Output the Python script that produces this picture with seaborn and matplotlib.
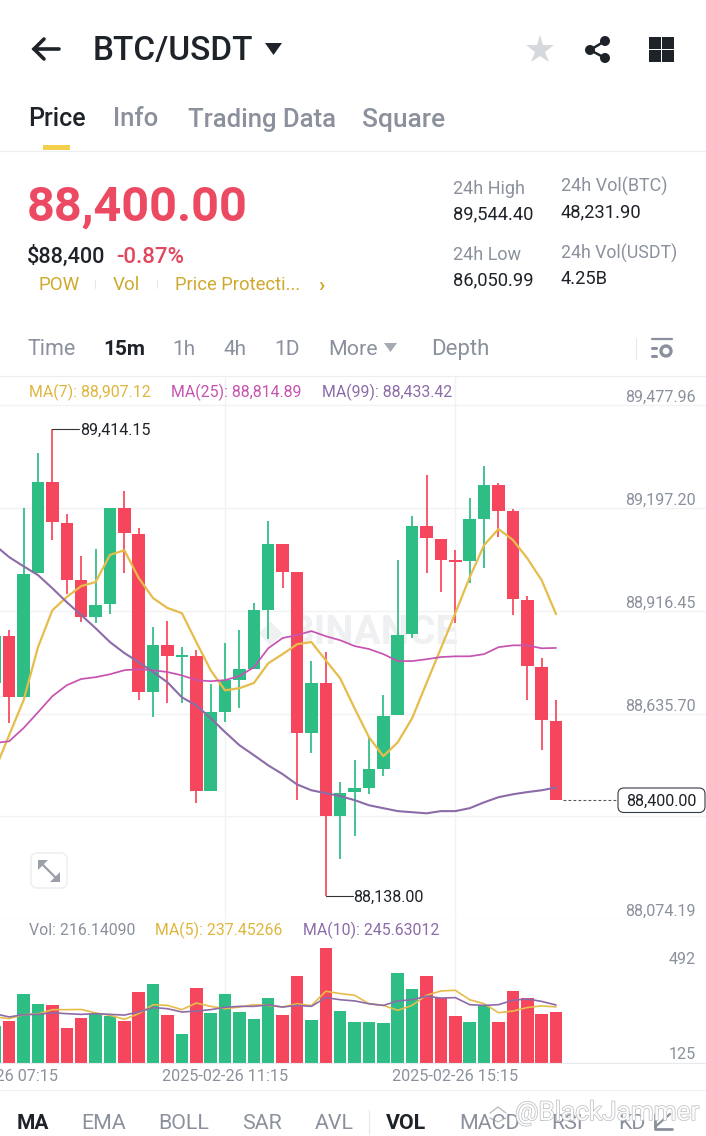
import numpy as np
import pandas as pd
import seaborn as sns
import matplotlib
matplotlib.use('Agg')
import matplotlib.pyplot as plt
import matplotlib.patheffects as pe
from matplotlib.patches import FancyBboxPatch, Rectangle, Circle, Polygon

# velas de 15m
opens = [88719, 88847, 88680, 89019, 89268, 89156, 89000, 88899, 88935, 89197,
         89126, 88694, 88823, 88791, 88792, 88423, 88639, 88727, 88757, 88918,
         89099, 89022, 88582, 88719, 88355, 88421, 88432, 88484, 88631, 88853,
         89148, 89112, 89055, 89052, 89167, 89260, 89189, 88946, 88762, 88615]
closes = [88847, 88680, 89017, 89268, 89159, 89000, 88899, 88932, 89197, 89129,
          88694, 88823, 88792, 88795, 88423, 88639, 88727, 88757, 88918, 89099,
          89022, 88582, 88719, 88355, 88418, 88432, 88484, 88628, 88850, 89148,
          89115, 89055, 89051, 89167, 89260, 89189, 88948, 88765, 88617, 88400]
highs = [88891, 88864, 89197, 89348, 89414.15, 89181, 89066, 89085, 89197, 89244,
         89143, 88872, 88888, 88817, 88809, 88716, 88828, 88864, 88937, 89162,
         89099, 89022, 88779, 88803, 88448, 88508, 88571, 88686, 89055, 89175,
         89287, 89112, 89082, 89225, 89312, 89266, 89194, 88956, 88787, 88672]
lows = [88700, 88609, 88680, 89019, 89110, 88962, 88885, 88883, 88907, 89019,
        88672, 88626, 88664, 88664, 88391, 88423, 88612, 88650, 88757, 88839,
        88978, 88400, 88527, 88138, 88237, 88300, 88415, 88464, 88631, 88842,
        89019, 88967, 88883, 88992, 89033, 89118, 88905, 88672, 88536, 88400]

ma7 = [88481, 88577, 88672, 88817, 88918, 88954, 88984, 88995, 89069, 89082,
       89006, 88951, 88924, 88910, 88831, 88754, 88699, 88705, 88719, 88773,
       88798, 88825, 88831, 88781, 88732, 88650, 88571, 88519, 88557, 88623,
       88719, 88814, 88910, 89008, 89096, 89140, 89110, 89060, 89000, 88907.12]
ma25 = [88555, 88560, 88596, 88639, 88683, 88713, 88730, 88735, 88743, 88754,
        88757, 88754, 88749, 88740, 88727, 88724, 88727, 88738, 88762, 88814,
        88842, 88850, 88861, 88847, 88836, 88820, 88812, 88798, 88779, 88779,
        88784, 88790, 88792, 88792, 88798, 88817, 88822, 88822, 88814, 88814.89]
ma99 = [89096, 89063, 89038, 89014, 88978, 88940, 88905, 88869, 88831, 88801,
        88776, 88749, 88721, 88680, 88658, 88623, 88585, 88549, 88522, 88494,
        88470, 88442, 88426, 88418, 88410, 88399, 88385, 88377, 88369, 88366,
        88363, 88369, 88369, 88377, 88393, 88407, 88415, 88421, 88426, 88433.42]

volumes = [155, 177, 294, 251, 247, 147, 189, 209, 199, 177,
           301, 333, 205, 124, 318, 213, 294, 218, 186, 277,
           203, 367, 181, 486, 222, 174, 174, 168, 381, 312,
           369, 275, 198, 174, 240, 174, 304, 275, 209, 216.14]
vol_ma5 = [195, 188, 205, 208, 226, 226, 227, 212, 202, 185,
           209, 247, 244, 226, 254, 240, 230, 237, 247, 244,
           237, 251, 243, 304, 294, 287, 251, 244, 223, 244,
           287, 305, 308, 268, 251, 213, 220, 235, 242, 237.45]
vol_ma10 = [209, 195, 205, 206, 213, 209, 206, 209, 206, 203,
            216, 235, 230, 216, 220, 226, 236, 240, 240, 246,
            237, 244, 240, 277, 268, 263, 251, 244, 263, 268,
            283, 275, 277, 247, 244, 247, 266, 271, 261, 245.63]

price_ticks = [89477.96, 89197.20, 88916.45, 88635.70, 88354.95, 88074.19]
price_labels = ['89,477.96', '89,197.20', '88,916.45', '88,635.70', '', '88,074.19']
time_ticks = [0, 16, 32]
time_labels = ['2025-02-26 07:15', '2025-02-26 11:15', '2025-02-26 15:15']

GREEN = '#2EBD85'
RED = '#F6465D'
YELLOW = '#E6BC4A'
MAGENTA = '#C653B0'
PURPLE = '#8C6BA8'
DARK = '#1E2329'
GREY = '#8A919C'
GRID = '#F1F2F4'
GOLD = '#CFA92E'

sns.set_style('white')
plt.rcParams['font.family'] = ['Roboto', 'DejaVu Sans']

df = pd.DataFrame({'idx': np.arange(len(opens)), 'open': opens, 'close': closes,
                   'high': highs, 'low': lows, 'vol': volumes})
df['dir'] = np.where(df['close'] >= df['open'], 'up', 'down')
colors = df['dir'].map({'up': GREEN, 'down': RED})

W, H = 706, 1136
fig = plt.figure(figsize=(W / 100, H / 100), dpi=100, facecolor='white')
XLIM = (-0.334, 49.42)

# painel de preços
ax = fig.add_axes([-10 / W, (H - 919) / H, (W + 10) / W, 543 / H], facecolor='none')
ax.set_axisbelow(True)
ax.text(20.44, 88855, 'BINANCE', color='#EEF0F2', fontsize=29, fontweight='bold',
        ha='left', va='center', zorder=0.5)
ax.plot([19.1], [88855], marker='D', ms=11, color='#EEF0F2', zorder=0.5)
ax.vlines(df['idx'], df['low'], df['high'], colors=colors, lw=1.25, zorder=2)
ax.bar(df['idx'], (df['close'] - df['open']).abs(), bottom=df[['open', 'close']].min(axis=1),
       width=0.87, color=colors, linewidth=0, zorder=2.2)
sns.lineplot(x=df['idx'], y=ma7, color=YELLOW, lw=1.6, ax=ax, zorder=3)
sns.lineplot(x=df['idx'], y=ma25, color=MAGENTA, lw=1.25, ax=ax, zorder=3)
sns.lineplot(x=df['idx'], y=ma99, color=PURPLE, lw=1.5, ax=ax, zorder=3)
ax.set_xlim(XLIM)
ax.set_ylim(88074.19, 89558.05)
ax.set_xlabel('')
ax.set_ylabel('')
ax.set_xticks(time_ticks)
ax.set_xticklabels([])
ax.yaxis.tick_right()
ax.set_yticks(price_ticks)
ax.set_yticklabels(price_labels)
ax.tick_params(axis='y', length=0, pad=-7.2, labelsize=11.6, labelcolor=GREY)
ax.tick_params(axis='x', length=0)
for lab in ax.get_yticklabels():
    lab.set_ha('right')
    lab.set_va('bottom')
ax.grid(True, color=GRID, lw=1)
sns.despine(ax=ax, left=True, right=True, bottom=True, top=True)

# máxima e mínima
for xi, val, txt in [(4, max(highs), '89,414.15'), (23, min(lows), '88,138.00')]:
    ax.plot([xi, xi + 1.88], [val, val], color='#333333', lw=0.8, zorder=4)
    ax.text(xi + 1.93, val - 4, txt, fontsize=11.6, color=DARK, va='center', ha='left', zorder=4)
# linha do último preço
ax.plot([39.45, 43.2], [closes[-1], closes[-1]], color='#555555', lw=0.8, ls=(0, (2.5, 2)), zorder=3)

# painel de volume
axv = fig.add_axes([-10 / W, (H - 1063) / H, (W + 10) / W, 144 / H], facecolor='none')
axv.set_axisbelow(True)
sns.barplot(data=df, x='idx', y='vol', hue='dir', palette={'up': GREEN, 'down': RED},
            native_scale=True, dodge=False, width=0.87, saturation=1, linewidth=0,
            legend=False, ax=axv, zorder=2)
sns.lineplot(x=df['idx'], y=vol_ma5, color=YELLOW, lw=1.2, ax=axv, zorder=3)
sns.lineplot(x=df['idx'], y=vol_ma10, color=PURPLE, lw=1.2, ax=axv, zorder=3)
axv.set_xlim(XLIM)
axv.set_ylim(0, 610)
axv.set_xlabel('')
axv.set_ylabel('')
axv.set_yticks([])
axv.set_xticks(time_ticks)
axv.set_xticklabels(time_labels)
axv.tick_params(axis='x', length=0, pad=4.5, labelsize=11.7, labelcolor=GREY)
axv.grid(True, axis='x', color=GRID, lw=1)
sns.despine(ax=axv, left=True, right=True, top=True)
axv.spines['bottom'].set_color('#E8EAED')
axv.spines['bottom'].set_linewidth(0.8)

# interface do app em pixels, por cima dos painéis
ui = fig.add_axes([0, 0, 1, 1], facecolor='none', zorder=5)
ui.set_xlim(0, W)
ui.set_ylim(H, 0)
ui.axis('off')


def label(x, y, s, size, color=GREY, weight='normal', ha='left', **kw):
    return ui.text(x, y + 1.5, s, fontsize=size, color=color, fontweight=weight, ha=ha,
                   va='center', **kw)


# cabeçalho
ui.plot([34, 59], [49, 49], color=DARK, lw=2.6, solid_capstyle='round')
ui.plot([44, 34, 44], [39, 49, 59], color=DARK, lw=2.6, solid_capstyle='round', solid_joinstyle='miter')
label(93, 50, 'BTC/USDT', 24, DARK, 'medium')
ui.add_patch(Polygon([[265, 43], [282, 43], [273.5, 55]], color=DARK, lw=0))
ui.plot([540], [50], marker='*', ms=21, color='#D5D8DC', mew=0)
for cx, cy in [(590, 50), (605, 41), (605, 58)]:
    ui.add_patch(Circle((cx, cy), 5, color=DARK, lw=0))
ui.plot([605, 590, 605], [41, 50, 58], color=DARK, lw=1.8)
for sx, sy in [(649, 37), (662, 37), (649, 50), (662, 50)]:
    ui.add_patch(Rectangle((sx, sy), 11.5, 11.5, color=DARK, lw=0))

# abas
label(28, 118, 'Price', 18, DARK, 'medium')
label(113, 118, 'Info', 18.5, GREY, 'medium')
label(188, 118, 'Trading Data', 18.5, GREY, 'medium')
label(362, 118, 'Square', 19, GREY, 'medium')
ui.add_patch(Rectangle((43, 145), 27, 5, color='#F3CF4B', lw=0))
ui.plot([0, W], [151, 151], color='#ECEEF0', lw=0.9)

# preço atual
label(27, 206, '88,400.00', 35, '#EC4A62', 'bold')
label(27, 255, '$88,400', 15.6, DARK, 'medium')
label(116, 256, '-0.87%', 16, '#E0485E', 'medium')
label(38, 284, 'POW', 13.5, GOLD)
label(113, 284, 'Vol', 13.5, GOLD)
label(175, 284, 'Price Protecti...', 13.2, GOLD)
label(318, 284, '›', 15, GOLD, 'bold')
for sep in [95, 157]:
    ui.plot([sep, sep], [280, 288], color='#E6E8EA', lw=0.8)

label(453, 187, '24h High', 13, GREY)
label(453, 213, '89,544.40', 13.2, DARK)
label(561, 185, '24h Vol(BTC)', 13, GREY)
label(561, 211, '48,231.90', 13.2, DARK)
label(453, 254, '24h Low', 13, GREY)
label(453, 279, '86,050.99', 13.2, DARK)
label(561, 252, '24h Vol(USDT)', 12.8, GREY)
label(561, 278, '4.25B', 13.2, DARK)

# intervalos
label(27, 348, 'Time', 15.5, GREY)
label(103, 348, '15m', 15, DARK, 'bold')
label(172, 348, '1h', 15, GREY)
label(223, 348, '4h', 15, GREY)
label(274, 348, '1D', 15, GREY)
label(328, 348, 'More', 15.4, GREY)
ui.add_patch(Polygon([[384, 343], [397, 343], [390.5, 352]], color='#A4A9B2', lw=0))
label(431, 348, 'Depth', 16, GREY)
ui.plot([636, 636], [338, 359], color='#E6E8EA', lw=0.8)
ui.plot([652, 672], [339, 339], color=GREY, lw=1.6)
ui.plot([652, 656], [348, 348], color=GREY, lw=2.2)
ui.plot([652, 656], [356, 356], color=GREY, lw=2.2)
ui.add_patch(Circle((666, 351), 5, fc='none', ec=GREY, lw=2.4))
ui.plot([0, W], [376, 376], color='#ECEEF0', lw=0.9)

# legendas das médias
label(29, 391, 'MA(7): 88,907.12', 11.4, '#E0B53E')
label(171, 391, 'MA(25): 88,814.89', 11.4, MAGENTA)
label(322, 391, 'MA(99): 88,433.42', 11.4, PURPLE)
label(29, 929, 'Vol: 216.14090', 11.4, GREY)
label(155, 929, 'MA(5): 237.45266', 11.4, '#E0B53E')
label(303, 929, 'MA(10): 245.63012', 11.4, PURPLE)
label(696, 958, '492', 11.6, GREY, ha='right')
label(696, 1053, '125', 11.6, GREY, ha='right')

# caixa do último preço
ui.add_patch(FancyBboxPatch((618, 788), 87, 24.5, boxstyle='round,pad=0,rounding_size=6',
                            mutation_aspect=1, fc='white', ec='#333a42', lw=0.8))
ui.text(661.5, 801.5, f'{closes[-1]:,.2f}', fontsize=11.6, color=DARK, ha='center', va='center')

# botão de expandir
ui.add_patch(FancyBboxPatch((31, 853), 36, 35, boxstyle='round,pad=0,rounding_size=6',
                            fc='white', ec='#EEEFF1', lw=1.2))
ui.plot([40, 58], [862, 880], color='#9A9FA8', lw=1.6)
ui.add_patch(Polygon([[38, 860], [48, 860], [38, 870]], color='#9A9FA8', lw=0))
ui.add_patch(Polygon([[60, 882], [50, 882], [60, 872]], color='#9A9FA8', lw=0))

# rodapé
ui.plot([0, W], [1090, 1090], color='#F0F1F3', lw=0.9)
label(17, 1122, 'MA', 15, DARK, 'bold')
label(81, 1122, 'EMA', 15.4, GREY)
label(158, 1122, 'BOLL', 15.4, GREY)
label(242, 1122, 'SAR', 15.4, GREY)
label(315, 1122, 'AVL', 15.4, GREY)
ui.plot([369, 369], [1110, 1134], color='#E6E8EA', lw=0.8)
label(386, 1122, 'VOL', 15.4, DARK, 'bold')
label(459, 1122, 'MACD', 15.4, GREY)
label(551, 1122, 'RSI', 15.4, GREY)
label(618, 1122, 'KD', 15.4, GREY)
ui.plot([655, 655, 672], [1114, 1129, 1129], color=GREY, lw=2)
ui.plot([655, 670], [1127, 1114], color=GREY, lw=1.6)

# marca d'água do usuário
ui.text(515, 1113, '@BlackJammer', fontsize=18.8, color='white', alpha=0.95, ha='left', va='center',
        path_effects=[pe.withStroke(linewidth=1.1, foreground='#BDBFC3')])
ui.plot([490, 498, 506], [1113, 1107, 1113], color='#BDBFC3', lw=1)
ui.plot([490, 498, 506], [1118, 1122, 1118], color='#BDBFC3', lw=1)

fig.savefig('out.png', dpi=100)
